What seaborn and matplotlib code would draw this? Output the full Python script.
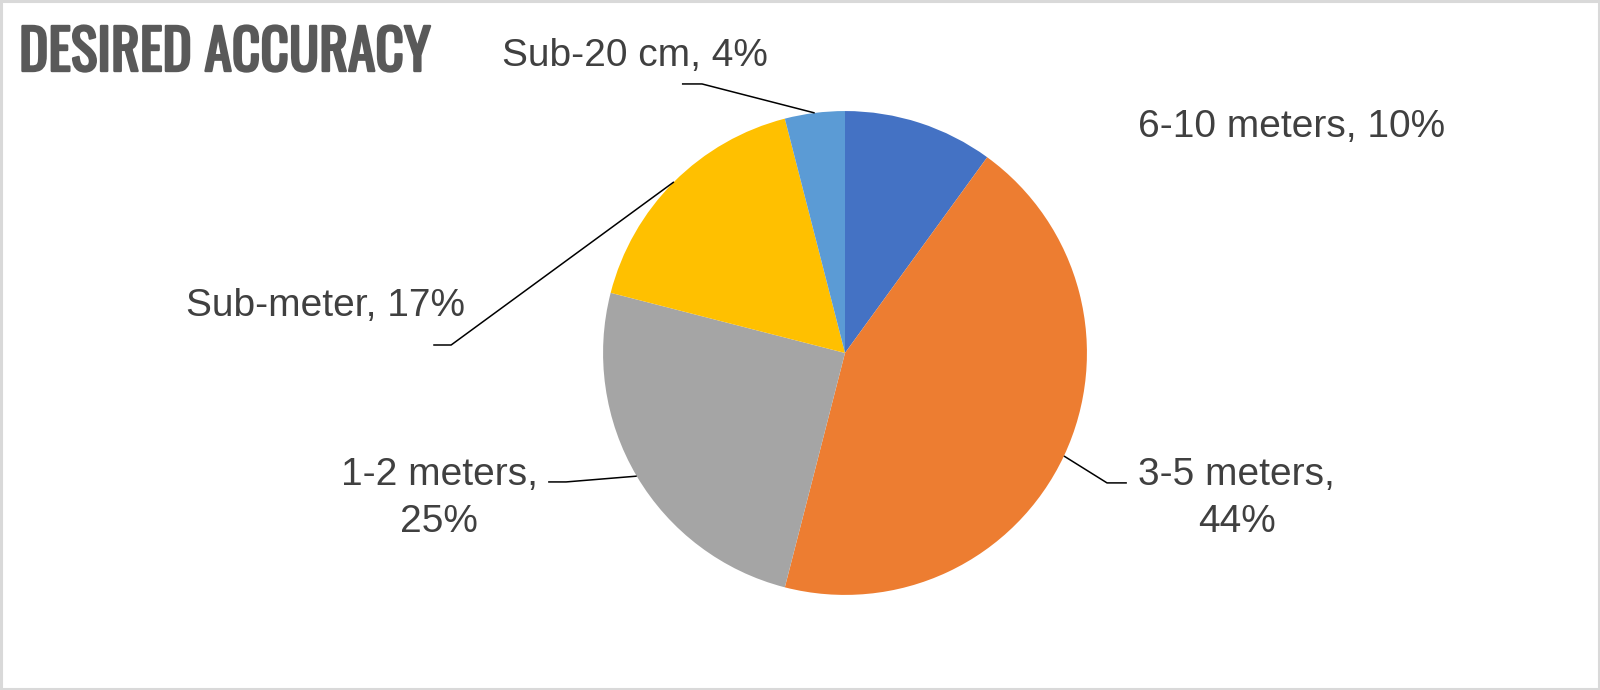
import matplotlib

matplotlib.use("Agg")
import matplotlib.pyplot as plt
import matplotlib.patheffects as pe
import numpy as np
import seaborn as sns
from matplotlib import font_manager
from matplotlib.patches import Rectangle

# data
categories = ["6-10 meters", "3-5 meters", "1-2 meters", "Sub-meter", "Sub-20 cm"]
shares = [10, 44, 25, 17, 4]
slice_colors = ["#4472C4", "#ED7D31", "#A5A5A5", "#FFC000", "#5B9BD5"]
title = "DESIRED ACCURACY"

TEXT_COLOR = "#404040"
TITLE_COLOR = "#595959"
LABEL_FONT = ["Liberation Sans", "DejaVu Sans"]

# label layout (data units, pie radius = 1): lines, x, first baseline, elbow points
LABEL_LAYOUT = {
    "6-10 meters": dict(lines=1, x=1.847, y=0.893, elbow=None),
    "3-5 meters": dict(lines=2, x=1.620, y=-0.545, elbow=[(1.165, -0.537), (1.083, -0.537)]),
    "1-2 meters": dict(lines=2, x=-1.678, y=-0.545, elbow=[(-1.227, -0.533), (-1.153, -0.533)]),
    "Sub-meter": dict(lines=1, x=-2.149, y=0.153, elbow=[(-1.702, 0.033), (-1.628, 0.033)]),
    "Sub-20 cm": dict(lines=1, x=-0.868, y=1.186, elbow=[(-0.674, 1.112), (-0.591, 1.112)]),
}
LINE_STEP = 0.195
TITLE_WIDTH_PX = 412


def _weight(entry):
    w = entry.weight
    if isinstance(w, str):
        return 700 if "bold" in w.lower() or "black" in w.lower() else 400
    return int(w)


def title_font():
    entries = font_manager.fontManager.ttflist
    preferred = ["Oswald", "Roboto Condensed", "Liberation Sans Narrow", "Open Sans Condensed",
                 "Noto Sans Condensed", "DejaVu Sans Condensed"]
    for name in preferred:
        hits = [e for e in entries if e.name == name and e.style == "normal"]
        if hits:
            best = max(hits, key=_weight)
            return font_manager.FontProperties(fname=best.fname), _weight(best) < 600
    condensed = [e for e in entries if "condensed" in str(e.stretch) and e.style == "normal"]
    if condensed:
        best = max(condensed, key=_weight)
        return font_manager.FontProperties(fname=best.fname), _weight(best) < 600
    return font_manager.FontProperties(family=LABEL_FONT, weight="bold"), False


def main():
    sns.set_theme(style="white")
    plt.rcParams["font.family"] = LABEL_FONT

    fig = plt.figure(figsize=(16, 6.9), dpi=100, facecolor="white")
    ax = fig.add_axes([0, 0, 1, 1])
    palette = sns.color_palette(slice_colors)

    wedges, _ = ax.pie(
        shares,
        colors=palette,
        startangle=90,
        counterclock=False,
        radius=1.0,
        wedgeprops=dict(linewidth=0),
    )
    ax.set_xlim(-3.492, 3.120)
    ax.set_ylim(-1.393, 1.459)
    ax.axis("off")

    for wedge, name, val in zip(wedges, categories, shares):
        lay = LABEL_LAYOUT[name]
        if lay["lines"] == 1:
            lines = [f"{name}, {val}%"]
        else:
            lines = [f"{name},", f"{val}%"]
        for i, line in enumerate(lines):
            ax.text(lay["x"], lay["y"] - i * LINE_STEP, line, ha="center", va="baseline",
                    fontsize=28, color=TEXT_COLOR)
        if lay["elbow"] is not None:
            mid = np.deg2rad((wedge.theta1 + wedge.theta2) / 2)
            pts = lay["elbow"] + [(np.cos(mid), np.sin(mid))]
            xs, ys = zip(*pts)
            ax.plot(xs, ys, color="black", lw=1.1, solid_capstyle="butt")

    fp, needs_bold = title_font()
    fp.set_size(37)
    t = fig.text(19 / 1600, 1 - 71 / 690, title, ha="left", va="baseline",
                 color=TITLE_COLOR, fontproperties=fp)
    renderer = fig.canvas.get_renderer()
    width = t.get_window_extent(renderer).width
    t.set_fontsize(min(45, 37 * TITLE_WIDTH_PX / width))
    if needs_bold:
        # the condensed face is a regular weight; thicken the strokes a little
        t.set_path_effects([pe.withStroke(linewidth=1.7, foreground=TITLE_COLOR)])

    fig.patches.append(Rectangle((0.0009, 0.002), 0.9982, 0.996, transform=fig.transFigure,
                                 fill=False, edgecolor="#D9D9D9", linewidth=2.2))

    fig.savefig("out.png", dpi=100, facecolor="white")
    plt.close(fig)


if __name__ == "__main__":
    main()
